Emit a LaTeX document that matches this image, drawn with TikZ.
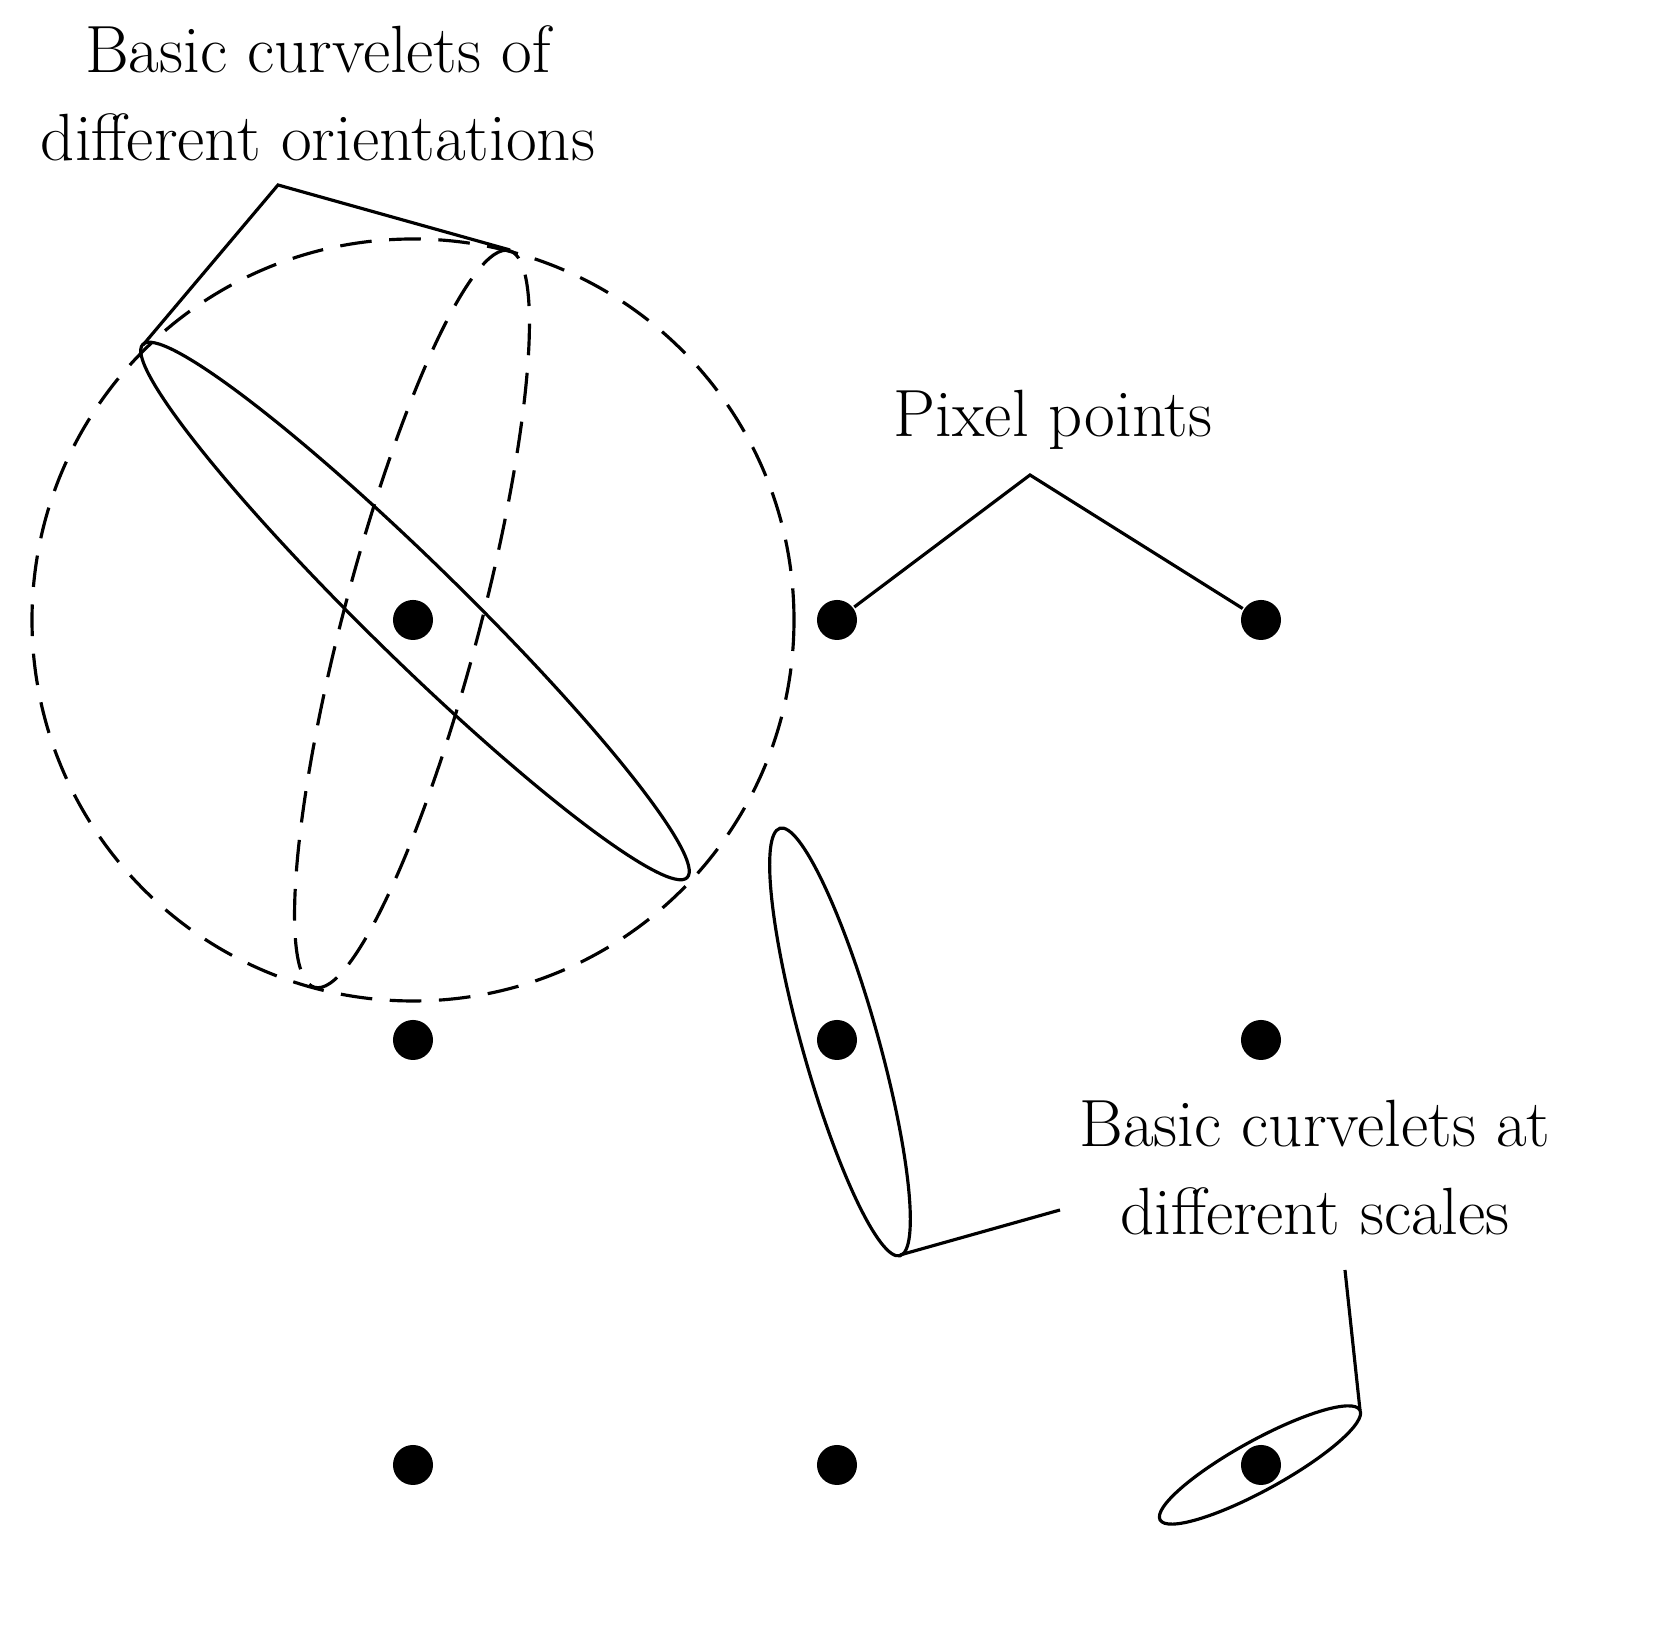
\documentclass[tikz,border=0pt]{standalone}
\usepackage{tikz}

\begin{document}
\begin{tikzpicture}[x=0.01cm,y=0.01cm,line width=0.9pt,
  pix/.style={circle,fill=black,inner sep=0pt,minimum size=0.4cm},
  lbl/.style={align=center,font=\fontsize{19}{25}\selectfont},
  dsh/.style={dash pattern=on 9pt off 5pt}]
\useasboundingbox (0,0) rectangle (1659,1648);
% pixel grid
\node [pix] (p11) at (413,1028) {};
\node [pix] (p12) at (837,1028) {};
\node [pix] (p13) at (1261,1028) {};
\node [pix] (p21) at (413,608) {};
\node [pix] (p22) at (837,608) {};
\node [pix] (p23) at (1261,608) {};
\node [pix] (p31) at (413,183) {};
\node [pix] (p32) at (837,183) {};
\node [pix] (p33) at (1261,183) {};
% curvelets of different orientations
\draw [dsh] (p11) circle (381);
\draw [rotate around={-44.4:(415,1037)}] (415,1037) ellipse (381 and 48);
\draw [dsh,rotate around={75.2:(412,1029)}] (412,1029) ellipse (381 and 68);
% curvelets at different scales
\draw [rotate around={-74.3:(840,606)}] (840,606) ellipse (222 and 38);
\draw [rotate around={28.8:(1260,183)}] (1260,183) ellipse (114 and 25);
% labels
\node [lbl] (orient) at (318,1555) {Basic curvelets of\\different orientations};
\node [lbl] (pixel) at (1053,1228) {Pixel points};
\node [lbl] (scale) at (1315,480) {Basic curvelets at\\different scales};
\coordinate (o1) at (143,1303);
\coordinate (o2) at (278,1463);
\coordinate (o3) at (510,1398);
\coordinate (q1) at (1030,1173);
\coordinate (s1) at (900,393);
\coordinate (s2) at (1060,438);
\coordinate (t1) at (1345,378);
\coordinate (t2) at (1360,238);
\draw (o1) -- (o2) -- (o3);
\draw (p12) -- (q1) -- (p13);
\draw (s1) -- (s2);
\draw (t1) -- (t2);
\end{tikzpicture}
\end{document}
